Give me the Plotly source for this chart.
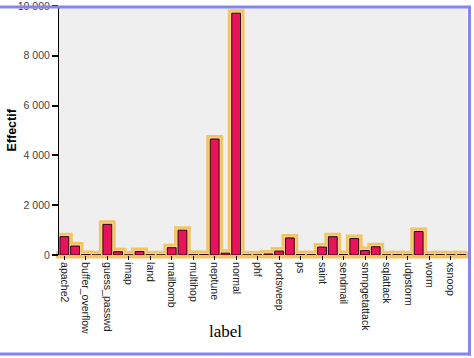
import plotly.graph_objects as go

labels = ["apache2", "back", "buffer_overflow", "ftp_write", "guess_passwd", "httptunnel",
          "imap", "ipsweep", "land", "loadmodule", "mailbomb", "mscan", "multihop", "named",
          "neptune", "nmap", "normal", "perl", "phf", "pod", "portsweep", "processtable",
          "ps", "rootkit", "saint", "satan", "sendmail", "smurf", "snmpgetattack",
          "snmpguess", "sqlattack", "teardrop", "udpstorm", "warezmaster", "worm",
          "xlock", "xsnoop", "xterm"]
counts = [737, 359, 20, 3, 1231, 133,
          1, 141, 7, 2, 293, 996, 18, 17,
          4657, 73, 9711, 2, 2, 41, 157, 685,
          15, 13, 319, 735, 14, 665, 178,
          331, 2, 12, 2, 944, 2,
          9, 4, 13]
shown_labels = labels[::2]
y_ticks = [0, 2000, 4000, 6000, 8000, 10000]
y_ticktext = ["0", "2 000", "4 000", "6 000", "8 000", "10 000"]

W, H = 474, 358
L, R, T, B = 59, 7, 0, 103
pw, ph = W - L - R, H - T - B

def px(x):
    return (x - L) / pw

def py(y):
    return (H - B - y) / ph

BW = 0.82
fig = go.Figure()
fig.add_trace(go.Bar(x=labels, y=counts, width=BW, cliponaxis=False,
                     marker=dict(color="#f3c466", line=dict(color="#f3c466", width=8)),
                     hoverinfo="skip"))
fig.add_trace(go.Bar(x=labels, y=counts, width=BW, cliponaxis=False,
                     marker=dict(color="#f7d88e", line=dict(color="#f7d88e", width=3)),
                     hoverinfo="skip"))
fig.add_trace(go.Bar(x=labels, y=counts, width=BW,
                     marker=dict(color="#e8135a", line=dict(color="#2a0512", width=1))))

shapes = [
    # gold baseline band
    dict(type="line", xref="paper", yref="paper", x0=px(56), x1=px(471), y0=0, y1=0,
         line=dict(color="#f3c466", width=7), layer="below"),
    # blue frame
    dict(type="line", xref="paper", yref="paper", x0=px(0), x1=px(471), y0=py(1), y1=py(1),
         line=dict(color="#8484f2", width=3)),
    dict(type="line", xref="paper", yref="paper", x0=px(469.5), x1=px(469.5), y0=py(0), y1=py(358),
         line=dict(color="#8484f2", width=3)),
    dict(type="line", xref="paper", yref="paper", x0=px(0), x1=px(471), y0=py(356.5), y1=py(356.5),
         line=dict(color="#8484f2", width=3)),
]

annotations = [
    dict(text="<b>Effectif</b>", xref="paper", yref="paper", x=px(11), y=0.5, textangle=-90,
         showarrow=False, xanchor="center", yanchor="middle",
         font=dict(family="Liberation Sans", size=12.5, color="#000")),
    dict(text="label", xref="paper", yref="paper", x=px(225), y=py(333),
         showarrow=False, xanchor="center", yanchor="middle",
         font=dict(family="Liberation Serif", size=17, color="#000")),
]

fig.update_layout(
    width=W, height=H,
    margin=dict(l=L, r=R, t=T, b=B, pad=0),
    paper_bgcolor="white", plot_bgcolor="#efefef",
    barmode="overlay", showlegend=False, hovermode=False,
    shapes=shapes, annotations=annotations,
    xaxis=dict(type="category", categoryorder="array", categoryarray=labels,
               range=[-0.5, len(labels) - 0.5],
               tickmode="array", tickvals=shown_labels, ticktext=shown_labels,
               tickangle=90, ticks="outside", ticklen=4, tickcolor="#000",
               showline=False, showgrid=False, zeroline=False,
               tickfont=dict(family="Liberation Sans", size=10.5, color="#222")),
    yaxis=dict(range=[0, 10000], tickmode="array", tickvals=y_ticks, ticktext=y_ticktext,
               ticks="outside", ticklen=6, tickcolor="#000", tickwidth=1.5,
               ticklabeloverflow="allow",
               showline=True, linecolor="#000", linewidth=1,
               showgrid=False, zeroline=False,
               tickfont=dict(family="Liberation Sans", size=10.5, color="#444")),
)

fig.write_html("out.html", config={"displayModeBar": False},
               post_script="document.body.style.margin='0';document.body.style.overflow='hidden';")
